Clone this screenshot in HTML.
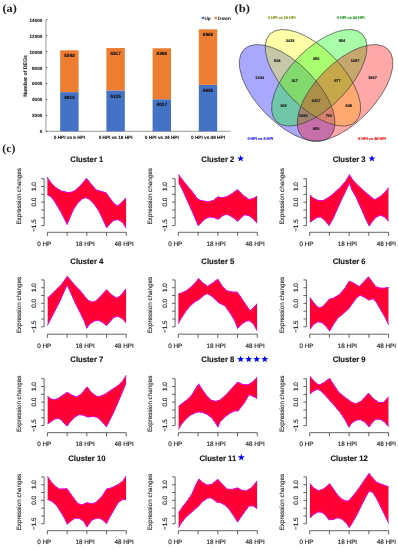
<!DOCTYPE html>
<html><head><meta charset="utf-8"><style>
html,body{margin:0;padding:0;background:#fff;}
svg{display:block;will-change:transform;text-rendering:geometricPrecision;font-family:"Liberation Sans",sans-serif;}
.lab{font-family:"Liberation Serif",serif;font-weight:bold;font-size:11.2px;fill:#1a1a1a;}
.bax{stroke:#8c8c8c;stroke-width:0.9;}
.bt{font-size:4.6px;font-weight:bold;fill:#262626;stroke:#262626;stroke-width:0.12;}
.byl{font-size:5.2px;font-weight:bold;fill:#262626;stroke:#262626;stroke-width:0.1;}
.bv{font-size:4.7px;font-weight:bold;fill:#111;stroke:#111;stroke-width:0.15;}
.bx{font-size:4.7px;font-weight:bold;fill:#222;stroke:#222;stroke-width:0.12;}
.bl{font-size:4.7px;font-weight:bold;fill:#333;stroke:#333;stroke-width:0.1;}
.vo{fill:none;stroke:#3a3a3a;stroke-width:0.75;stroke-opacity:0.85;}
.vn{font-size:3.9px;font-weight:bold;fill:#222;stroke:#222;stroke-width:0.15;}
.vs{font-size:3.85px;font-weight:bold;stroke-width:0.15;}
.ax{stroke:#333;stroke-width:0.75;}
.tl{font-size:6.35px;fill:#222;stroke:#222;stroke-width:0.14;}
.yl{font-size:6.27px;fill:#222;stroke:#222;stroke-width:0.12;}
.ti{font-size:7.95px;font-weight:bold;fill:#111;stroke:#111;stroke-width:0.12;}
.env{fill:#ff0034;}
.eb0{fill:none;stroke:#ff10b0;stroke-width:1.5;stroke-linejoin:round;}
.eb1{fill:none;stroke:#f000ff;stroke-width:0.95;stroke-linejoin:round;}
.eb2{fill:none;stroke:#8a10ff;stroke-width:0.45;stroke-linejoin:round;}
</style></head><body>
<svg width="398" height="550" viewBox="0 0 398 550">
<text transform="translate(2.5 11.9) scale(1.1 1)" class="lab">(a)</text>
<line x1="45.95" y1="19.35" x2="45.95" y2="131.3" class="bax"/>
<line x1="45.95" y1="131.3" x2="230.5" y2="131.3" class="bax"/>
<line x1="45.95" y1="131.3" x2="47.25" y2="131.3" stroke="#666" stroke-width="0.9"/>
<text x="42.3" y="133.3" class="bt" text-anchor="end">0</text>
<line x1="45.95" y1="115.35" x2="47.25" y2="115.35" stroke="#666" stroke-width="0.9"/>
<text x="42.3" y="117.35" class="bt" text-anchor="end">2000</text>
<line x1="45.95" y1="99.4" x2="47.25" y2="99.4" stroke="#666" stroke-width="0.9"/>
<text x="42.3" y="101.4" class="bt" text-anchor="end">4000</text>
<line x1="45.95" y1="83.45" x2="47.25" y2="83.45" stroke="#666" stroke-width="0.9"/>
<text x="42.3" y="85.45" class="bt" text-anchor="end">6000</text>
<line x1="45.95" y1="67.5" x2="47.25" y2="67.5" stroke="#666" stroke-width="0.9"/>
<text x="42.3" y="69.5" class="bt" text-anchor="end">8000</text>
<line x1="45.95" y1="51.55" x2="47.25" y2="51.55" stroke="#666" stroke-width="0.9"/>
<text x="42.3" y="53.55" class="bt" text-anchor="end">10000</text>
<line x1="45.95" y1="35.6" x2="47.25" y2="35.6" stroke="#666" stroke-width="0.9"/>
<text x="42.3" y="37.6" class="bt" text-anchor="end">12000</text>
<line x1="45.95" y1="19.65" x2="47.25" y2="19.65" stroke="#666" stroke-width="0.9"/>
<text x="42.3" y="21.65" class="bt" text-anchor="end">14000</text>
<text transform="translate(26.9 75.8) rotate(-90)" class="byl" text-anchor="middle">Number of DEGs</text>
<rect x="60.2" y="92.12" width="18.4" height="39.18" fill="#4472c4"/>
<rect x="60.2" y="50.31" width="18.4" height="41.81" fill="#ed7d31"/>
<text x="69.4" y="99.22" class="bv" text-anchor="middle">4913</text>
<text x="69.4" y="57.41" class="bv" text-anchor="middle">5243</text>
<text x="69.4" y="139.1" class="bx" text-anchor="middle">0 HPI vs 6 HPI</text>
<rect x="106.4" y="90.43" width="18.4" height="40.87" fill="#4472c4"/>
<rect x="106.4" y="48.03" width="18.4" height="42.4" fill="#ed7d31"/>
<text x="115.6" y="97.53" class="bv" text-anchor="middle">5125</text>
<text x="115.6" y="55.13" class="bv" text-anchor="middle">5317</text>
<text x="115.6" y="139.1" class="bx" text-anchor="middle">0 HPI vs 18 HPI</text>
<rect x="152.6" y="99.26" width="18.4" height="32.04" fill="#4472c4"/>
<rect x="152.6" y="48.26" width="18.4" height="51.01" fill="#ed7d31"/>
<text x="161.8" y="106.36" class="bv" text-anchor="middle">4017</text>
<text x="161.8" y="55.36" class="bv" text-anchor="middle">6396</text>
<text x="161.8" y="139.1" class="bx" text-anchor="middle">0 HPI vs 24 HPI</text>
<rect x="198.8" y="84.85" width="18.4" height="46.45" fill="#4472c4"/>
<rect x="198.8" y="29.29" width="18.4" height="55.55" fill="#ed7d31"/>
<text x="208" y="91.95" class="bv" text-anchor="middle">5825</text>
<text x="208" y="36.39" class="bv" text-anchor="middle">6966</text>
<text x="208" y="139.1" class="bx" text-anchor="middle">0 HPI vs 48 HPI</text>
<rect x="201.8" y="16.8" width="2.2" height="2.3" fill="#4472c4"/>
<text x="204.4" y="19.8" class="bl">Up</text>
<rect x="214.6" y="16.8" width="2.3" height="2.3" fill="#ed7d31"/>
<text x="218" y="19.8" class="bl">Down</text>
<text transform="translate(234.6 11.9) scale(1.12 1)" class="lab">(b)</text>
<ellipse cx="287.16" cy="92.95" rx="61.28" ry="29.7" transform="rotate(45.5 287.16 92.95)" fill="#0000ff" fill-opacity="0.34"/>
<ellipse cx="312.93" cy="77.79" rx="61.29" ry="29.23" transform="rotate(45.54 312.93 77.79)" fill="#ffff00" fill-opacity="0.34"/>
<ellipse cx="319.27" cy="77.79" rx="61.29" ry="29.23" transform="rotate(-45.54 319.27 77.79)" fill="#00ff00" fill-opacity="0.34"/>
<ellipse cx="345.04" cy="92.95" rx="61.28" ry="29.7" transform="rotate(-45.5 345.04 92.95)" fill="#ff0000" fill-opacity="0.34"/>
<ellipse cx="287.16" cy="92.95" rx="61.28" ry="29.7" transform="rotate(45.5 287.16 92.95)" class="vo"/>
<ellipse cx="312.93" cy="77.79" rx="61.29" ry="29.23" transform="rotate(45.54 312.93 77.79)" class="vo"/>
<ellipse cx="319.27" cy="77.79" rx="61.29" ry="29.23" transform="rotate(-45.54 319.27 77.79)" class="vo"/>
<ellipse cx="345.04" cy="92.95" rx="61.28" ry="29.7" transform="rotate(-45.5 345.04 92.95)" class="vo"/>
<text x="290.2" y="42.35" class="vn" text-anchor="middle">2423</text>
<text x="342" y="42.35" class="vn" text-anchor="middle">854</text>
<text x="277.3" y="61.55" class="vn" text-anchor="middle">524</text>
<text x="316.1" y="60.35" class="vn" text-anchor="middle">456</text>
<text x="355" y="61.55" class="vn" text-anchor="middle">1297</text>
<text x="259.7" y="78.55" class="vn" text-anchor="middle">1244</text>
<text x="294.7" y="82.35" class="vn" text-anchor="middle">317</text>
<text x="337.4" y="82.35" class="vn" text-anchor="middle">977</text>
<text x="372.5" y="78.55" class="vn" text-anchor="middle">1967</text>
<text x="283.4" y="106.85" class="vn" text-anchor="middle">369</text>
<text x="316.1" y="102.45" class="vn" text-anchor="middle">6217</text>
<text x="348.8" y="106.85" class="vn" text-anchor="middle">828</text>
<text x="303.3" y="117.05" class="vn" text-anchor="middle">1926</text>
<text x="328.9" y="117.05" class="vn" text-anchor="middle">700</text>
<text x="316.1" y="130.15" class="vn" text-anchor="middle">859</text>
<text x="281.6" y="19.0" class="vs" fill="#8f9a1e" stroke="#8f9a1e" text-anchor="middle">0 HPI vs 18 HPI</text>
<text x="350.6" y="19.0" class="vs" fill="#22a022" stroke="#22a022" text-anchor="middle">0 HPI vs 24 HPI</text>
<text x="260.2" y="140.0" class="vs" fill="#2020f0" stroke="#2020f0" text-anchor="middle">0 HPI vs 6 HPI</text>
<text x="372" y="140.0" class="vs" fill="#f01010" stroke="#f01010" text-anchor="middle">0 HPI vs 48 HPI</text>
<text transform="translate(2.3 151.5) scale(1.05 1)" class="lab">(c)</text>
<line x1="44.1" y1="178.7" x2="44.1" y2="225.59" class="ax"/>
<line x1="41.1" y1="178.7" x2="44.1" y2="178.7" class="ax"/>
<line x1="41.1" y1="186.51" x2="44.1" y2="186.51" class="ax"/>
<line x1="41.1" y1="194.33" x2="44.1" y2="194.33" class="ax"/>
<line x1="41.1" y1="202.14" x2="44.1" y2="202.14" class="ax"/>
<line x1="41.1" y1="209.96" x2="44.1" y2="209.96" class="ax"/>
<line x1="41.1" y1="217.77" x2="44.1" y2="217.77" class="ax"/>
<line x1="41.1" y1="225.59" x2="44.1" y2="225.59" class="ax"/>
<text transform="translate(35.9 186.51) rotate(-90)" class="tl" text-anchor="middle">1.0</text>
<text transform="translate(35.9 202.14) rotate(-90)" class="tl" text-anchor="middle">0.0</text>
<text transform="translate(35.9 225.59) rotate(-90)" class="tl" text-anchor="middle">−1.5</text>
<text transform="translate(21.3 196.4) rotate(-90)" class="yl" text-anchor="middle">Expression changes</text>
<line x1="47.4" y1="232.3" x2="126.28" y2="232.3" class="ax"/>
<line x1="47.4" y1="232.3" x2="47.4" y2="235.9" class="ax"/>
<line x1="67.12" y1="232.3" x2="67.12" y2="235.9" class="ax"/>
<line x1="86.84" y1="232.3" x2="86.84" y2="235.9" class="ax"/>
<line x1="106.56" y1="232.3" x2="106.56" y2="235.9" class="ax"/>
<line x1="126.28" y1="232.3" x2="126.28" y2="235.9" class="ax"/>
<text x="44.2" y="245.9" class="tl" text-anchor="middle">0 HP</text>
<text x="85.14" y="245.9" class="tl" text-anchor="middle">18 HPI</text>
<text x="124.08" y="245.9" class="tl" text-anchor="middle">48 HPI</text>
<text transform="translate(86.84 161.6) scale(0.97 1)" class="ti" text-anchor="middle">Cluster 1</text>
<clipPath id="c1"><path d="M47.22 176.86 L50.53 181.84 L53.84 185.71 L57.71 188.47 L61.59 190.69 L67.12 192.02 L72.08 191.78 L75.96 189.59 L80.37 185.16 L86.73 177.98 L90.53 182.94 L96.06 189.59 L101.59 191.24 L106 192.35 L110.43 198.43 L114.86 203.96 L117.6 205.61 L121.49 202.3 L126.26 197.31 L126.26 228.83 L122.59 222.75 L118.15 219.98 L113.74 220.53 L110.43 223.87 L106.54 228.3 L102.68 219.43 L98.27 210.57 L93.84 203.96 L89.32 199.59 L85.73 197.91 L82.59 198.98 L78.16 202.84 L73.75 209.49 L70.43 217.22 L67.12 224.96 L63.78 218.34 L60.47 211.69 L57.16 206.14 L53.84 200.65 L50.53 196.77 L47.22 195.12Z"/></clipPath>
<g clip-path="url(#c1)"><path d="M47.22 176.86 L50.53 181.84 L53.84 185.71 L57.71 188.47 L61.59 190.69 L67.12 192.02 L72.08 191.78 L75.96 189.59 L80.37 185.16 L86.73 177.98 L90.53 182.94 L96.06 189.59 L101.59 191.24 L106 192.35 L110.43 198.43 L114.86 203.96 L117.6 205.61 L121.49 202.3 L126.26 197.31 L126.26 228.83 L122.59 222.75 L118.15 219.98 L113.74 220.53 L110.43 223.87 L106.54 228.3 L102.68 219.43 L98.27 210.57 L93.84 203.96 L89.32 199.59 L85.73 197.91 L82.59 198.98 L78.16 202.84 L73.75 209.49 L70.43 217.22 L67.12 224.96 L63.78 218.34 L60.47 211.69 L57.16 206.14 L53.84 200.65 L50.53 196.77 L47.22 195.12Z" class="env"/>
<path d="M47.22 176.86 L50.53 181.84 L53.84 185.71 L57.71 188.47 L61.59 190.69 L67.12 192.02 L72.08 191.78 L75.96 189.59 L80.37 185.16 L86.73 177.98 L90.53 182.94 L96.06 189.59 L101.59 191.24 L106 192.35 L110.43 198.43 L114.86 203.96 L117.6 205.61 L121.49 202.3 L126.26 197.31" class="eb0"/><path d="M47.22 176.86 L50.53 181.84 L53.84 185.71 L57.71 188.47 L61.59 190.69 L67.12 192.02 L72.08 191.78 L75.96 189.59 L80.37 185.16 L86.73 177.98 L90.53 182.94 L96.06 189.59 L101.59 191.24 L106 192.35 L110.43 198.43 L114.86 203.96 L117.6 205.61 L121.49 202.3 L126.26 197.31" class="eb1"/><path d="M47.22 176.86 L50.53 181.84 L53.84 185.71 L57.71 188.47 L61.59 190.69 L67.12 192.02 L72.08 191.78 L75.96 189.59 L80.37 185.16 L86.73 177.98 L90.53 182.94 L96.06 189.59 L101.59 191.24 L106 192.35 L110.43 198.43 L114.86 203.96 L117.6 205.61 L121.49 202.3 L126.26 197.31" class="eb2"/>
<path d="M126.26 228.83 L122.59 222.75 L118.15 219.98 L113.74 220.53 L110.43 223.87 L106.54 228.3 L102.68 219.43 L98.27 210.57 L93.84 203.96 L89.32 199.59 L85.73 197.91 L82.59 198.98 L78.16 202.84 L73.75 209.49 L70.43 217.22 L67.12 224.96 L63.78 218.34 L60.47 211.69 L57.16 206.14 L53.84 200.65 L50.53 196.77 L47.22 195.12" class="eb0"/><path d="M126.26 228.83 L122.59 222.75 L118.15 219.98 L113.74 220.53 L110.43 223.87 L106.54 228.3 L102.68 219.43 L98.27 210.57 L93.84 203.96 L89.32 199.59 L85.73 197.91 L82.59 198.98 L78.16 202.84 L73.75 209.49 L70.43 217.22 L67.12 224.96 L63.78 218.34 L60.47 211.69 L57.16 206.14 L53.84 200.65 L50.53 196.77 L47.22 195.12" class="eb1"/><path d="M126.26 228.83 L122.59 222.75 L118.15 219.98 L113.74 220.53 L110.43 223.87 L106.54 228.3 L102.68 219.43 L98.27 210.57 L93.84 203.96 L89.32 199.59 L85.73 197.91 L82.59 198.98 L78.16 202.84 L73.75 209.49 L70.43 217.22 L67.12 224.96 L63.78 218.34 L60.47 211.69 L57.16 206.14 L53.84 200.65 L50.53 196.77 L47.22 195.12" class="eb2"/>
</g>
<line x1="175.1" y1="178.7" x2="175.1" y2="225.59" class="ax"/>
<line x1="172.1" y1="178.7" x2="175.1" y2="178.7" class="ax"/>
<line x1="172.1" y1="186.51" x2="175.1" y2="186.51" class="ax"/>
<line x1="172.1" y1="194.33" x2="175.1" y2="194.33" class="ax"/>
<line x1="172.1" y1="202.14" x2="175.1" y2="202.14" class="ax"/>
<line x1="172.1" y1="209.96" x2="175.1" y2="209.96" class="ax"/>
<line x1="172.1" y1="217.77" x2="175.1" y2="217.77" class="ax"/>
<line x1="172.1" y1="225.59" x2="175.1" y2="225.59" class="ax"/>
<text transform="translate(166.9 186.51) rotate(-90)" class="tl" text-anchor="middle">1.0</text>
<text transform="translate(166.9 202.14) rotate(-90)" class="tl" text-anchor="middle">0.0</text>
<text transform="translate(166.9 225.59) rotate(-90)" class="tl" text-anchor="middle">−1.5</text>
<text transform="translate(152.3 196.4) rotate(-90)" class="yl" text-anchor="middle">Expression changes</text>
<line x1="178.4" y1="232.3" x2="257.28" y2="232.3" class="ax"/>
<line x1="178.4" y1="232.3" x2="178.4" y2="235.9" class="ax"/>
<line x1="198.12" y1="232.3" x2="198.12" y2="235.9" class="ax"/>
<line x1="217.84" y1="232.3" x2="217.84" y2="235.9" class="ax"/>
<line x1="237.56" y1="232.3" x2="237.56" y2="235.9" class="ax"/>
<line x1="257.28" y1="232.3" x2="257.28" y2="235.9" class="ax"/>
<text x="175.2" y="245.9" class="tl" text-anchor="middle">0 HP</text>
<text x="216.14" y="245.9" class="tl" text-anchor="middle">18 HPI</text>
<text x="255.08" y="245.9" class="tl" text-anchor="middle">48 HPI</text>
<text transform="translate(217.84 161.6) scale(0.97 1)" class="ti" text-anchor="middle">Cluster 2</text>
<path d="M240.64 154.9 L241.51 157.4 L244.16 157.46 L242.05 159.06 L242.81 161.59 L240.64 160.08 L238.47 161.59 L239.23 159.06 L237.12 157.46 L239.77 157.4Z" fill="#0000ff"/>
<clipPath id="c2"><path d="M178.43 174.1 L182.63 179.63 L187.06 185.16 L192.59 191.78 L198.12 199.32 L203.65 200.65 L209.16 201.2 L213.59 200.08 L218 196.43 L220.11 197.06 L222.62 197.31 L227.06 196.22 L232.59 192.9 L237.54 189.36 L242.53 194.55 L249.15 199.32 L253.59 197.88 L257.26 195.67 L257.26 223.87 L253.59 219.43 L249.15 216.12 L244.74 215 L241.43 217.77 L237.54 221.65 L233.68 218.34 L229.27 215.57 L225.94 214.79 L222.62 216.12 L219.27 219.01 L217.45 219.43 L213.59 217.74 L209.16 217.22 L204.75 219.43 L201.43 222.75 L198.12 226.06 L195.35 219.43 L191.47 210.57 L187.06 200.65 L182.63 190.69 L178.43 182.39Z"/></clipPath>
<g clip-path="url(#c2)"><path d="M178.43 174.1 L182.63 179.63 L187.06 185.16 L192.59 191.78 L198.12 199.32 L203.65 200.65 L209.16 201.2 L213.59 200.08 L218 196.43 L220.11 197.06 L222.62 197.31 L227.06 196.22 L232.59 192.9 L237.54 189.36 L242.53 194.55 L249.15 199.32 L253.59 197.88 L257.26 195.67 L257.26 223.87 L253.59 219.43 L249.15 216.12 L244.74 215 L241.43 217.77 L237.54 221.65 L233.68 218.34 L229.27 215.57 L225.94 214.79 L222.62 216.12 L219.27 219.01 L217.45 219.43 L213.59 217.74 L209.16 217.22 L204.75 219.43 L201.43 222.75 L198.12 226.06 L195.35 219.43 L191.47 210.57 L187.06 200.65 L182.63 190.69 L178.43 182.39Z" class="env"/>
<path d="M178.43 174.1 L182.63 179.63 L187.06 185.16 L192.59 191.78 L198.12 199.32 L203.65 200.65 L209.16 201.2 L213.59 200.08 L218 196.43 L220.11 197.06 L222.62 197.31 L227.06 196.22 L232.59 192.9 L237.54 189.36 L242.53 194.55 L249.15 199.32 L253.59 197.88 L257.26 195.67" class="eb0"/><path d="M178.43 174.1 L182.63 179.63 L187.06 185.16 L192.59 191.78 L198.12 199.32 L203.65 200.65 L209.16 201.2 L213.59 200.08 L218 196.43 L220.11 197.06 L222.62 197.31 L227.06 196.22 L232.59 192.9 L237.54 189.36 L242.53 194.55 L249.15 199.32 L253.59 197.88 L257.26 195.67" class="eb1"/><path d="M178.43 174.1 L182.63 179.63 L187.06 185.16 L192.59 191.78 L198.12 199.32 L203.65 200.65 L209.16 201.2 L213.59 200.08 L218 196.43 L220.11 197.06 L222.62 197.31 L227.06 196.22 L232.59 192.9 L237.54 189.36 L242.53 194.55 L249.15 199.32 L253.59 197.88 L257.26 195.67" class="eb2"/>
<path d="M257.26 223.87 L253.59 219.43 L249.15 216.12 L244.74 215 L241.43 217.77 L237.54 221.65 L233.68 218.34 L229.27 215.57 L225.94 214.79 L222.62 216.12 L219.27 219.01 L217.45 219.43 L213.59 217.74 L209.16 217.22 L204.75 219.43 L201.43 222.75 L198.12 226.06 L195.35 219.43 L191.47 210.57 L187.06 200.65 L182.63 190.69 L178.43 182.39" class="eb0"/><path d="M257.26 223.87 L253.59 219.43 L249.15 216.12 L244.74 215 L241.43 217.77 L237.54 221.65 L233.68 218.34 L229.27 215.57 L225.94 214.79 L222.62 216.12 L219.27 219.01 L217.45 219.43 L213.59 217.74 L209.16 217.22 L204.75 219.43 L201.43 222.75 L198.12 226.06 L195.35 219.43 L191.47 210.57 L187.06 200.65 L182.63 190.69 L178.43 182.39" class="eb1"/><path d="M257.26 223.87 L253.59 219.43 L249.15 216.12 L244.74 215 L241.43 217.77 L237.54 221.65 L233.68 218.34 L229.27 215.57 L225.94 214.79 L222.62 216.12 L219.27 219.01 L217.45 219.43 L213.59 217.74 L209.16 217.22 L204.75 219.43 L201.43 222.75 L198.12 226.06 L195.35 219.43 L191.47 210.57 L187.06 200.65 L182.63 190.69 L178.43 182.39" class="eb2"/>
</g>
<line x1="306.4" y1="178.7" x2="306.4" y2="225.59" class="ax"/>
<line x1="303.4" y1="178.7" x2="306.4" y2="178.7" class="ax"/>
<line x1="303.4" y1="186.51" x2="306.4" y2="186.51" class="ax"/>
<line x1="303.4" y1="194.33" x2="306.4" y2="194.33" class="ax"/>
<line x1="303.4" y1="202.14" x2="306.4" y2="202.14" class="ax"/>
<line x1="303.4" y1="209.96" x2="306.4" y2="209.96" class="ax"/>
<line x1="303.4" y1="217.77" x2="306.4" y2="217.77" class="ax"/>
<line x1="303.4" y1="225.59" x2="306.4" y2="225.59" class="ax"/>
<text transform="translate(298.2 186.51) rotate(-90)" class="tl" text-anchor="middle">1.0</text>
<text transform="translate(298.2 202.14) rotate(-90)" class="tl" text-anchor="middle">0.0</text>
<text transform="translate(298.2 225.59) rotate(-90)" class="tl" text-anchor="middle">−1.5</text>
<text transform="translate(283.6 196.4) rotate(-90)" class="yl" text-anchor="middle">Expression changes</text>
<line x1="309.7" y1="232.3" x2="388.58" y2="232.3" class="ax"/>
<line x1="309.7" y1="232.3" x2="309.7" y2="235.9" class="ax"/>
<line x1="329.42" y1="232.3" x2="329.42" y2="235.9" class="ax"/>
<line x1="349.14" y1="232.3" x2="349.14" y2="235.9" class="ax"/>
<line x1="368.86" y1="232.3" x2="368.86" y2="235.9" class="ax"/>
<line x1="388.58" y1="232.3" x2="388.58" y2="235.9" class="ax"/>
<text x="306.5" y="245.9" class="tl" text-anchor="middle">0 HP</text>
<text x="347.44" y="245.9" class="tl" text-anchor="middle">18 HPI</text>
<text x="386.38" y="245.9" class="tl" text-anchor="middle">48 HPI</text>
<text transform="translate(349.14 161.6) scale(0.97 1)" class="ti" text-anchor="middle">Cluster 3</text>
<path d="M371.94 154.9 L372.81 157.4 L375.46 157.46 L373.35 159.06 L374.11 161.59 L371.94 160.08 L369.77 161.59 L370.53 159.06 L368.42 157.46 L371.07 157.4Z" fill="#0000ff"/>
<clipPath id="c3"><path d="M309.74 194.55 L313.63 197.88 L318.06 200.08 L323.59 200.08 L329.12 196.77 L334.65 192.35 L340.16 187.37 L345.69 180.75 L349.42 174.27 L353.62 180.75 L358.06 185.16 L363.59 190.14 L369.11 195.12 L374.64 199.53 L380.15 196.22 L384.59 192.35 L388.68 187.37 L388.68 221.65 L384.59 217.22 L380.15 215.57 L375.74 217.77 L372.43 221.65 L369.11 226.61 L364.68 217.22 L360.27 207.28 L355.84 197.31 L351.43 189.59 L349.42 183.76 L346.81 189.59 L342.37 198.43 L337.96 208.37 L333.53 218.34 L329.12 226.06 L324.69 220.53 L321.37 217.77 L318.06 217.22 L313.63 219.98 L309.74 222.75Z"/></clipPath>
<g clip-path="url(#c3)"><path d="M309.74 194.55 L313.63 197.88 L318.06 200.08 L323.59 200.08 L329.12 196.77 L334.65 192.35 L340.16 187.37 L345.69 180.75 L349.42 174.27 L353.62 180.75 L358.06 185.16 L363.59 190.14 L369.11 195.12 L374.64 199.53 L380.15 196.22 L384.59 192.35 L388.68 187.37 L388.68 221.65 L384.59 217.22 L380.15 215.57 L375.74 217.77 L372.43 221.65 L369.11 226.61 L364.68 217.22 L360.27 207.28 L355.84 197.31 L351.43 189.59 L349.42 183.76 L346.81 189.59 L342.37 198.43 L337.96 208.37 L333.53 218.34 L329.12 226.06 L324.69 220.53 L321.37 217.77 L318.06 217.22 L313.63 219.98 L309.74 222.75Z" class="env"/>
<path d="M309.74 194.55 L313.63 197.88 L318.06 200.08 L323.59 200.08 L329.12 196.77 L334.65 192.35 L340.16 187.37 L345.69 180.75 L349.42 174.27 L353.62 180.75 L358.06 185.16 L363.59 190.14 L369.11 195.12 L374.64 199.53 L380.15 196.22 L384.59 192.35 L388.68 187.37" class="eb0"/><path d="M309.74 194.55 L313.63 197.88 L318.06 200.08 L323.59 200.08 L329.12 196.77 L334.65 192.35 L340.16 187.37 L345.69 180.75 L349.42 174.27 L353.62 180.75 L358.06 185.16 L363.59 190.14 L369.11 195.12 L374.64 199.53 L380.15 196.22 L384.59 192.35 L388.68 187.37" class="eb1"/><path d="M309.74 194.55 L313.63 197.88 L318.06 200.08 L323.59 200.08 L329.12 196.77 L334.65 192.35 L340.16 187.37 L345.69 180.75 L349.42 174.27 L353.62 180.75 L358.06 185.16 L363.59 190.14 L369.11 195.12 L374.64 199.53 L380.15 196.22 L384.59 192.35 L388.68 187.37" class="eb2"/>
<path d="M388.68 221.65 L384.59 217.22 L380.15 215.57 L375.74 217.77 L372.43 221.65 L369.11 226.61 L364.68 217.22 L360.27 207.28 L355.84 197.31 L351.43 189.59 L349.42 183.76 L346.81 189.59 L342.37 198.43 L337.96 208.37 L333.53 218.34 L329.12 226.06 L324.69 220.53 L321.37 217.77 L318.06 217.22 L313.63 219.98 L309.74 222.75" class="eb0"/><path d="M388.68 221.65 L384.59 217.22 L380.15 215.57 L375.74 217.77 L372.43 221.65 L369.11 226.61 L364.68 217.22 L360.27 207.28 L355.84 197.31 L351.43 189.59 L349.42 183.76 L346.81 189.59 L342.37 198.43 L337.96 208.37 L333.53 218.34 L329.12 226.06 L324.69 220.53 L321.37 217.77 L318.06 217.22 L313.63 219.98 L309.74 222.75" class="eb1"/><path d="M388.68 221.65 L384.59 217.22 L380.15 215.57 L375.74 217.77 L372.43 221.65 L369.11 226.61 L364.68 217.22 L360.27 207.28 L355.84 197.31 L351.43 189.59 L349.42 183.76 L346.81 189.59 L342.37 198.43 L337.96 208.37 L333.53 218.34 L329.12 226.06 L324.69 220.53 L321.37 217.77 L318.06 217.22 L313.63 219.98 L309.74 222.75" class="eb2"/>
</g>
<line x1="44.1" y1="279.9" x2="44.1" y2="326.79" class="ax"/>
<line x1="41.1" y1="279.9" x2="44.1" y2="279.9" class="ax"/>
<line x1="41.1" y1="287.71" x2="44.1" y2="287.71" class="ax"/>
<line x1="41.1" y1="295.53" x2="44.1" y2="295.53" class="ax"/>
<line x1="41.1" y1="303.34" x2="44.1" y2="303.34" class="ax"/>
<line x1="41.1" y1="311.16" x2="44.1" y2="311.16" class="ax"/>
<line x1="41.1" y1="318.97" x2="44.1" y2="318.97" class="ax"/>
<line x1="41.1" y1="326.79" x2="44.1" y2="326.79" class="ax"/>
<text transform="translate(35.9 287.71) rotate(-90)" class="tl" text-anchor="middle">1.0</text>
<text transform="translate(35.9 303.34) rotate(-90)" class="tl" text-anchor="middle">0.0</text>
<text transform="translate(35.9 326.79) rotate(-90)" class="tl" text-anchor="middle">−1.5</text>
<text transform="translate(21.3 305.1) rotate(-90)" class="yl" text-anchor="middle">Expression changes</text>
<line x1="47.4" y1="334.2" x2="126.28" y2="334.2" class="ax"/>
<line x1="47.4" y1="334.2" x2="47.4" y2="337.8" class="ax"/>
<line x1="67.12" y1="334.2" x2="67.12" y2="337.8" class="ax"/>
<line x1="86.84" y1="334.2" x2="86.84" y2="337.8" class="ax"/>
<line x1="106.56" y1="334.2" x2="106.56" y2="337.8" class="ax"/>
<line x1="126.28" y1="334.2" x2="126.28" y2="337.8" class="ax"/>
<text x="44.2" y="347.8" class="tl" text-anchor="middle">0 HP</text>
<text x="85.14" y="347.8" class="tl" text-anchor="middle">18 HPI</text>
<text x="124.08" y="347.8" class="tl" text-anchor="middle">48 HPI</text>
<text transform="translate(86.84 264) scale(0.97 1)" class="ti" text-anchor="middle">Cluster 4</text>
<clipPath id="c4"><path d="M47.43 297.77 L51.63 293.9 L56.06 289.47 L61.59 283.94 L65.45 278.43 L67.12 275.98 L70.43 279.53 L74.84 285.06 L80.37 290.59 L85.31 296.79 L88.31 299.98 L92.17 301.65 L96.06 300.53 L100.47 296.12 L106.54 289.47 L111.53 294.45 L116.51 297.77 L120.37 295.55 L126.26 288.37 L126.26 323.2 L122.59 319.34 L118.15 316.57 L113.74 317.67 L110.43 321.53 L106.54 325.96 L102.68 322.65 L98.27 320.43 L93.84 321.53 L89.43 324.87 L86.79 328.73 L83.69 320.43 L79.28 311.59 L74.84 302.75 L70.43 292.78 L67.12 285.61 L64.35 291.69 L60.47 300.53 L56.06 309.37 L51.63 317.67 L47.43 325.96Z"/></clipPath>
<g clip-path="url(#c4)"><path d="M47.43 297.77 L51.63 293.9 L56.06 289.47 L61.59 283.94 L65.45 278.43 L67.12 275.98 L70.43 279.53 L74.84 285.06 L80.37 290.59 L85.31 296.79 L88.31 299.98 L92.17 301.65 L96.06 300.53 L100.47 296.12 L106.54 289.47 L111.53 294.45 L116.51 297.77 L120.37 295.55 L126.26 288.37 L126.26 323.2 L122.59 319.34 L118.15 316.57 L113.74 317.67 L110.43 321.53 L106.54 325.96 L102.68 322.65 L98.27 320.43 L93.84 321.53 L89.43 324.87 L86.79 328.73 L83.69 320.43 L79.28 311.59 L74.84 302.75 L70.43 292.78 L67.12 285.61 L64.35 291.69 L60.47 300.53 L56.06 309.37 L51.63 317.67 L47.43 325.96Z" class="env"/>
<path d="M47.43 297.77 L51.63 293.9 L56.06 289.47 L61.59 283.94 L65.45 278.43 L67.12 275.98 L70.43 279.53 L74.84 285.06 L80.37 290.59 L85.31 296.79 L88.31 299.98 L92.17 301.65 L96.06 300.53 L100.47 296.12 L106.54 289.47 L111.53 294.45 L116.51 297.77 L120.37 295.55 L126.26 288.37" class="eb0"/><path d="M47.43 297.77 L51.63 293.9 L56.06 289.47 L61.59 283.94 L65.45 278.43 L67.12 275.98 L70.43 279.53 L74.84 285.06 L80.37 290.59 L85.31 296.79 L88.31 299.98 L92.17 301.65 L96.06 300.53 L100.47 296.12 L106.54 289.47 L111.53 294.45 L116.51 297.77 L120.37 295.55 L126.26 288.37" class="eb1"/><path d="M47.43 297.77 L51.63 293.9 L56.06 289.47 L61.59 283.94 L65.45 278.43 L67.12 275.98 L70.43 279.53 L74.84 285.06 L80.37 290.59 L85.31 296.79 L88.31 299.98 L92.17 301.65 L96.06 300.53 L100.47 296.12 L106.54 289.47 L111.53 294.45 L116.51 297.77 L120.37 295.55 L126.26 288.37" class="eb2"/>
<path d="M126.26 323.2 L122.59 319.34 L118.15 316.57 L113.74 317.67 L110.43 321.53 L106.54 325.96 L102.68 322.65 L98.27 320.43 L93.84 321.53 L89.43 324.87 L86.79 328.73 L83.69 320.43 L79.28 311.59 L74.84 302.75 L70.43 292.78 L67.12 285.61 L64.35 291.69 L60.47 300.53 L56.06 309.37 L51.63 317.67 L47.43 325.96" class="eb0"/><path d="M126.26 323.2 L122.59 319.34 L118.15 316.57 L113.74 317.67 L110.43 321.53 L106.54 325.96 L102.68 322.65 L98.27 320.43 L93.84 321.53 L89.43 324.87 L86.79 328.73 L83.69 320.43 L79.28 311.59 L74.84 302.75 L70.43 292.78 L67.12 285.61 L64.35 291.69 L60.47 300.53 L56.06 309.37 L51.63 317.67 L47.43 325.96" class="eb1"/><path d="M126.26 323.2 L122.59 319.34 L118.15 316.57 L113.74 317.67 L110.43 321.53 L106.54 325.96 L102.68 322.65 L98.27 320.43 L93.84 321.53 L89.43 324.87 L86.79 328.73 L83.69 320.43 L79.28 311.59 L74.84 302.75 L70.43 292.78 L67.12 285.61 L64.35 291.69 L60.47 300.53 L56.06 309.37 L51.63 317.67 L47.43 325.96" class="eb2"/>
</g>
<line x1="175.1" y1="279.9" x2="175.1" y2="326.79" class="ax"/>
<line x1="172.1" y1="279.9" x2="175.1" y2="279.9" class="ax"/>
<line x1="172.1" y1="287.71" x2="175.1" y2="287.71" class="ax"/>
<line x1="172.1" y1="295.53" x2="175.1" y2="295.53" class="ax"/>
<line x1="172.1" y1="303.34" x2="175.1" y2="303.34" class="ax"/>
<line x1="172.1" y1="311.16" x2="175.1" y2="311.16" class="ax"/>
<line x1="172.1" y1="318.97" x2="175.1" y2="318.97" class="ax"/>
<line x1="172.1" y1="326.79" x2="175.1" y2="326.79" class="ax"/>
<text transform="translate(166.9 287.71) rotate(-90)" class="tl" text-anchor="middle">1.0</text>
<text transform="translate(166.9 303.34) rotate(-90)" class="tl" text-anchor="middle">0.0</text>
<text transform="translate(166.9 326.79) rotate(-90)" class="tl" text-anchor="middle">−1.5</text>
<text transform="translate(152.3 305.1) rotate(-90)" class="yl" text-anchor="middle">Expression changes</text>
<line x1="178.4" y1="334.2" x2="257.28" y2="334.2" class="ax"/>
<line x1="178.4" y1="334.2" x2="178.4" y2="337.8" class="ax"/>
<line x1="198.12" y1="334.2" x2="198.12" y2="337.8" class="ax"/>
<line x1="217.84" y1="334.2" x2="217.84" y2="337.8" class="ax"/>
<line x1="237.56" y1="334.2" x2="237.56" y2="337.8" class="ax"/>
<line x1="257.28" y1="334.2" x2="257.28" y2="337.8" class="ax"/>
<text x="175.2" y="347.8" class="tl" text-anchor="middle">0 HP</text>
<text x="216.14" y="347.8" class="tl" text-anchor="middle">18 HPI</text>
<text x="255.08" y="347.8" class="tl" text-anchor="middle">48 HPI</text>
<text transform="translate(217.84 264) scale(0.97 1)" class="ti" text-anchor="middle">Cluster 5</text>
<clipPath id="c5"><path d="M178.22 293.84 L182.54 292.15 L186.98 290.04 L191.41 286.24 L195.42 282.23 L198.58 278.22 L202.59 282.23 L207.45 286.03 L212.51 282.86 L217.79 278.85 L222.64 286.16 L227.08 290.59 L232.56 291.69 L237 291.69 L239.74 295 L244.81 302.7 L250.29 310.51 L254.09 306.61 L257.26 303.34 L257.26 331.41 L253.04 323.81 L249.24 321.07 L245.86 321.49 L241.43 324.87 L237.63 328.66 L234.25 320.43 L230.45 313.89 L224.75 306.08 L218.63 302.92 L214.62 299.33 L211.46 296.16 L207.45 294.05 L204.7 295.11 L201.33 297.85 L198.16 300.59 L195.42 301.65 L190.35 306.08 L185.92 311.57 L181.49 318.32 L178.22 324.23Z"/></clipPath>
<g clip-path="url(#c5)"><path d="M178.22 293.84 L182.54 292.15 L186.98 290.04 L191.41 286.24 L195.42 282.23 L198.58 278.22 L202.59 282.23 L207.45 286.03 L212.51 282.86 L217.79 278.85 L222.64 286.16 L227.08 290.59 L232.56 291.69 L237 291.69 L239.74 295 L244.81 302.7 L250.29 310.51 L254.09 306.61 L257.26 303.34 L257.26 331.41 L253.04 323.81 L249.24 321.07 L245.86 321.49 L241.43 324.87 L237.63 328.66 L234.25 320.43 L230.45 313.89 L224.75 306.08 L218.63 302.92 L214.62 299.33 L211.46 296.16 L207.45 294.05 L204.7 295.11 L201.33 297.85 L198.16 300.59 L195.42 301.65 L190.35 306.08 L185.92 311.57 L181.49 318.32 L178.22 324.23Z" class="env"/>
<path d="M178.22 293.84 L182.54 292.15 L186.98 290.04 L191.41 286.24 L195.42 282.23 L198.58 278.22 L202.59 282.23 L207.45 286.03 L212.51 282.86 L217.79 278.85 L222.64 286.16 L227.08 290.59 L232.56 291.69 L237 291.69 L239.74 295 L244.81 302.7 L250.29 310.51 L254.09 306.61 L257.26 303.34" class="eb0"/><path d="M178.22 293.84 L182.54 292.15 L186.98 290.04 L191.41 286.24 L195.42 282.23 L198.58 278.22 L202.59 282.23 L207.45 286.03 L212.51 282.86 L217.79 278.85 L222.64 286.16 L227.08 290.59 L232.56 291.69 L237 291.69 L239.74 295 L244.81 302.7 L250.29 310.51 L254.09 306.61 L257.26 303.34" class="eb1"/><path d="M178.22 293.84 L182.54 292.15 L186.98 290.04 L191.41 286.24 L195.42 282.23 L198.58 278.22 L202.59 282.23 L207.45 286.03 L212.51 282.86 L217.79 278.85 L222.64 286.16 L227.08 290.59 L232.56 291.69 L237 291.69 L239.74 295 L244.81 302.7 L250.29 310.51 L254.09 306.61 L257.26 303.34" class="eb2"/>
<path d="M257.26 331.41 L253.04 323.81 L249.24 321.07 L245.86 321.49 L241.43 324.87 L237.63 328.66 L234.25 320.43 L230.45 313.89 L224.75 306.08 L218.63 302.92 L214.62 299.33 L211.46 296.16 L207.45 294.05 L204.7 295.11 L201.33 297.85 L198.16 300.59 L195.42 301.65 L190.35 306.08 L185.92 311.57 L181.49 318.32 L178.22 324.23" class="eb0"/><path d="M257.26 331.41 L253.04 323.81 L249.24 321.07 L245.86 321.49 L241.43 324.87 L237.63 328.66 L234.25 320.43 L230.45 313.89 L224.75 306.08 L218.63 302.92 L214.62 299.33 L211.46 296.16 L207.45 294.05 L204.7 295.11 L201.33 297.85 L198.16 300.59 L195.42 301.65 L190.35 306.08 L185.92 311.57 L181.49 318.32 L178.22 324.23" class="eb1"/><path d="M257.26 331.41 L253.04 323.81 L249.24 321.07 L245.86 321.49 L241.43 324.87 L237.63 328.66 L234.25 320.43 L230.45 313.89 L224.75 306.08 L218.63 302.92 L214.62 299.33 L211.46 296.16 L207.45 294.05 L204.7 295.11 L201.33 297.85 L198.16 300.59 L195.42 301.65 L190.35 306.08 L185.92 311.57 L181.49 318.32 L178.22 324.23" class="eb2"/>
</g>
<line x1="306.4" y1="279.9" x2="306.4" y2="326.79" class="ax"/>
<line x1="303.4" y1="279.9" x2="306.4" y2="279.9" class="ax"/>
<line x1="303.4" y1="287.71" x2="306.4" y2="287.71" class="ax"/>
<line x1="303.4" y1="295.53" x2="306.4" y2="295.53" class="ax"/>
<line x1="303.4" y1="303.34" x2="306.4" y2="303.34" class="ax"/>
<line x1="303.4" y1="311.16" x2="306.4" y2="311.16" class="ax"/>
<line x1="303.4" y1="318.97" x2="306.4" y2="318.97" class="ax"/>
<line x1="303.4" y1="326.79" x2="306.4" y2="326.79" class="ax"/>
<text transform="translate(298.2 287.71) rotate(-90)" class="tl" text-anchor="middle">1.0</text>
<text transform="translate(298.2 303.34) rotate(-90)" class="tl" text-anchor="middle">0.0</text>
<text transform="translate(298.2 326.79) rotate(-90)" class="tl" text-anchor="middle">−1.5</text>
<text transform="translate(283.6 305.1) rotate(-90)" class="yl" text-anchor="middle">Expression changes</text>
<line x1="309.7" y1="334.2" x2="388.58" y2="334.2" class="ax"/>
<line x1="309.7" y1="334.2" x2="309.7" y2="337.8" class="ax"/>
<line x1="329.42" y1="334.2" x2="329.42" y2="337.8" class="ax"/>
<line x1="349.14" y1="334.2" x2="349.14" y2="337.8" class="ax"/>
<line x1="368.86" y1="334.2" x2="368.86" y2="337.8" class="ax"/>
<line x1="388.58" y1="334.2" x2="388.58" y2="337.8" class="ax"/>
<text x="306.5" y="347.8" class="tl" text-anchor="middle">0 HP</text>
<text x="347.44" y="347.8" class="tl" text-anchor="middle">18 HPI</text>
<text x="386.38" y="347.8" class="tl" text-anchor="middle">48 HPI</text>
<text transform="translate(349.14 264) scale(0.97 1)" class="ti" text-anchor="middle">Cluster 6</text>
<clipPath id="c6"><path d="M309.76 296.67 L313.63 302.2 L316.94 306.06 L319.71 307.73 L323.59 305.51 L329.12 298.88 L333.53 297.77 L339.06 294.45 L344.59 288.37 L349.21 280.63 L353.62 282.84 L359.15 286.16 L363.59 281.75 L368.54 276.43 L372.43 281.75 L375.74 286.16 L380.15 287.82 L384.59 287.82 L388.68 287.04 L388.68 325.41 L384.59 317.12 L380.15 309.37 L375.74 301.65 L372.98 298.88 L369.11 300.53 L364.68 297.77 L360.27 295.55 L356.94 297.77 L352.53 303.84 L349 308.82 L343.49 313.81 L337.96 318.22 L333.53 324.87 L329.67 331.49 L326.35 327.06 L322.47 323.2 L318.06 322.1 L313.63 324.87 L309.76 329.83Z"/></clipPath>
<g clip-path="url(#c6)"><path d="M309.76 296.67 L313.63 302.2 L316.94 306.06 L319.71 307.73 L323.59 305.51 L329.12 298.88 L333.53 297.77 L339.06 294.45 L344.59 288.37 L349.21 280.63 L353.62 282.84 L359.15 286.16 L363.59 281.75 L368.54 276.43 L372.43 281.75 L375.74 286.16 L380.15 287.82 L384.59 287.82 L388.68 287.04 L388.68 325.41 L384.59 317.12 L380.15 309.37 L375.74 301.65 L372.98 298.88 L369.11 300.53 L364.68 297.77 L360.27 295.55 L356.94 297.77 L352.53 303.84 L349 308.82 L343.49 313.81 L337.96 318.22 L333.53 324.87 L329.67 331.49 L326.35 327.06 L322.47 323.2 L318.06 322.1 L313.63 324.87 L309.76 329.83Z" class="env"/>
<path d="M309.76 296.67 L313.63 302.2 L316.94 306.06 L319.71 307.73 L323.59 305.51 L329.12 298.88 L333.53 297.77 L339.06 294.45 L344.59 288.37 L349.21 280.63 L353.62 282.84 L359.15 286.16 L363.59 281.75 L368.54 276.43 L372.43 281.75 L375.74 286.16 L380.15 287.82 L384.59 287.82 L388.68 287.04" class="eb0"/><path d="M309.76 296.67 L313.63 302.2 L316.94 306.06 L319.71 307.73 L323.59 305.51 L329.12 298.88 L333.53 297.77 L339.06 294.45 L344.59 288.37 L349.21 280.63 L353.62 282.84 L359.15 286.16 L363.59 281.75 L368.54 276.43 L372.43 281.75 L375.74 286.16 L380.15 287.82 L384.59 287.82 L388.68 287.04" class="eb1"/><path d="M309.76 296.67 L313.63 302.2 L316.94 306.06 L319.71 307.73 L323.59 305.51 L329.12 298.88 L333.53 297.77 L339.06 294.45 L344.59 288.37 L349.21 280.63 L353.62 282.84 L359.15 286.16 L363.59 281.75 L368.54 276.43 L372.43 281.75 L375.74 286.16 L380.15 287.82 L384.59 287.82 L388.68 287.04" class="eb2"/>
<path d="M388.68 325.41 L384.59 317.12 L380.15 309.37 L375.74 301.65 L372.98 298.88 L369.11 300.53 L364.68 297.77 L360.27 295.55 L356.94 297.77 L352.53 303.84 L349 308.82 L343.49 313.81 L337.96 318.22 L333.53 324.87 L329.67 331.49 L326.35 327.06 L322.47 323.2 L318.06 322.1 L313.63 324.87 L309.76 329.83" class="eb0"/><path d="M388.68 325.41 L384.59 317.12 L380.15 309.37 L375.74 301.65 L372.98 298.88 L369.11 300.53 L364.68 297.77 L360.27 295.55 L356.94 297.77 L352.53 303.84 L349 308.82 L343.49 313.81 L337.96 318.22 L333.53 324.87 L329.67 331.49 L326.35 327.06 L322.47 323.2 L318.06 322.1 L313.63 324.87 L309.76 329.83" class="eb1"/><path d="M388.68 325.41 L384.59 317.12 L380.15 309.37 L375.74 301.65 L372.98 298.88 L369.11 300.53 L364.68 297.77 L360.27 295.55 L356.94 297.77 L352.53 303.84 L349 308.82 L343.49 313.81 L337.96 318.22 L333.53 324.87 L329.67 331.49 L326.35 327.06 L322.47 323.2 L318.06 322.1 L313.63 324.87 L309.76 329.83" class="eb2"/>
</g>
<line x1="44.1" y1="378.7" x2="44.1" y2="425.59" class="ax"/>
<line x1="41.1" y1="378.7" x2="44.1" y2="378.7" class="ax"/>
<line x1="41.1" y1="386.51" x2="44.1" y2="386.51" class="ax"/>
<line x1="41.1" y1="394.33" x2="44.1" y2="394.33" class="ax"/>
<line x1="41.1" y1="402.14" x2="44.1" y2="402.14" class="ax"/>
<line x1="41.1" y1="409.96" x2="44.1" y2="409.96" class="ax"/>
<line x1="41.1" y1="417.77" x2="44.1" y2="417.77" class="ax"/>
<line x1="41.1" y1="425.59" x2="44.1" y2="425.59" class="ax"/>
<text transform="translate(35.9 386.51) rotate(-90)" class="tl" text-anchor="middle">1.0</text>
<text transform="translate(35.9 402.14) rotate(-90)" class="tl" text-anchor="middle">0.0</text>
<text transform="translate(35.9 425.59) rotate(-90)" class="tl" text-anchor="middle">−1.5</text>
<text transform="translate(21.3 403.9) rotate(-90)" class="yl" text-anchor="middle">Expression changes</text>
<line x1="47.4" y1="432.7" x2="126.28" y2="432.7" class="ax"/>
<line x1="47.4" y1="432.7" x2="47.4" y2="436.3" class="ax"/>
<line x1="67.12" y1="432.7" x2="67.12" y2="436.3" class="ax"/>
<line x1="86.84" y1="432.7" x2="86.84" y2="436.3" class="ax"/>
<line x1="106.56" y1="432.7" x2="106.56" y2="436.3" class="ax"/>
<line x1="126.28" y1="432.7" x2="126.28" y2="436.3" class="ax"/>
<text x="44.2" y="446.3" class="tl" text-anchor="middle">0 HP</text>
<text x="85.14" y="446.3" class="tl" text-anchor="middle">18 HPI</text>
<text x="124.08" y="446.3" class="tl" text-anchor="middle">48 HPI</text>
<text transform="translate(86.84 362.3) scale(0.97 1)" class="ti" text-anchor="middle">Cluster 7</text>
<clipPath id="c7"><path d="M47.43 395.67 L50.53 398.43 L54.39 399.53 L58.28 397.88 L62.69 395.12 L67.12 392.02 L71.53 394.55 L76.51 396.77 L81.49 393.45 L87 386.51 L91.62 392.35 L96.06 395.67 L99.37 396.22 L104.9 394 L111.53 389.59 L118.15 385.16 L122.59 380.75 L126.26 374.67 L126.26 382.94 L122.59 392.35 L118.15 402.84 L113.74 412.81 L109.88 420.53 L106.54 427.18 L102.68 422.75 L98.27 418.34 L93.84 416.67 L89.43 417.22 L87 417.32 L83.69 415.57 L79.28 415 L74.84 417.22 L70.43 421.65 L67.12 426.61 L64.35 423.87 L61.59 420.53 L58.28 418.55 L54.39 419.43 L50.53 422.2 L47.43 424.41Z"/></clipPath>
<g clip-path="url(#c7)"><path d="M47.43 395.67 L50.53 398.43 L54.39 399.53 L58.28 397.88 L62.69 395.12 L67.12 392.02 L71.53 394.55 L76.51 396.77 L81.49 393.45 L87 386.51 L91.62 392.35 L96.06 395.67 L99.37 396.22 L104.9 394 L111.53 389.59 L118.15 385.16 L122.59 380.75 L126.26 374.67 L126.26 382.94 L122.59 392.35 L118.15 402.84 L113.74 412.81 L109.88 420.53 L106.54 427.18 L102.68 422.75 L98.27 418.34 L93.84 416.67 L89.43 417.22 L87 417.32 L83.69 415.57 L79.28 415 L74.84 417.22 L70.43 421.65 L67.12 426.61 L64.35 423.87 L61.59 420.53 L58.28 418.55 L54.39 419.43 L50.53 422.2 L47.43 424.41Z" class="env"/>
<path d="M47.43 395.67 L50.53 398.43 L54.39 399.53 L58.28 397.88 L62.69 395.12 L67.12 392.02 L71.53 394.55 L76.51 396.77 L81.49 393.45 L87 386.51 L91.62 392.35 L96.06 395.67 L99.37 396.22 L104.9 394 L111.53 389.59 L118.15 385.16 L122.59 380.75 L126.26 374.67" class="eb0"/><path d="M47.43 395.67 L50.53 398.43 L54.39 399.53 L58.28 397.88 L62.69 395.12 L67.12 392.02 L71.53 394.55 L76.51 396.77 L81.49 393.45 L87 386.51 L91.62 392.35 L96.06 395.67 L99.37 396.22 L104.9 394 L111.53 389.59 L118.15 385.16 L122.59 380.75 L126.26 374.67" class="eb1"/><path d="M47.43 395.67 L50.53 398.43 L54.39 399.53 L58.28 397.88 L62.69 395.12 L67.12 392.02 L71.53 394.55 L76.51 396.77 L81.49 393.45 L87 386.51 L91.62 392.35 L96.06 395.67 L99.37 396.22 L104.9 394 L111.53 389.59 L118.15 385.16 L122.59 380.75 L126.26 374.67" class="eb2"/>
<path d="M126.26 382.94 L122.59 392.35 L118.15 402.84 L113.74 412.81 L109.88 420.53 L106.54 427.18 L102.68 422.75 L98.27 418.34 L93.84 416.67 L89.43 417.22 L87 417.32 L83.69 415.57 L79.28 415 L74.84 417.22 L70.43 421.65 L67.12 426.61 L64.35 423.87 L61.59 420.53 L58.28 418.55 L54.39 419.43 L50.53 422.2 L47.43 424.41" class="eb0"/><path d="M126.26 382.94 L122.59 392.35 L118.15 402.84 L113.74 412.81 L109.88 420.53 L106.54 427.18 L102.68 422.75 L98.27 418.34 L93.84 416.67 L89.43 417.22 L87 417.32 L83.69 415.57 L79.28 415 L74.84 417.22 L70.43 421.65 L67.12 426.61 L64.35 423.87 L61.59 420.53 L58.28 418.55 L54.39 419.43 L50.53 422.2 L47.43 424.41" class="eb1"/><path d="M126.26 382.94 L122.59 392.35 L118.15 402.84 L113.74 412.81 L109.88 420.53 L106.54 427.18 L102.68 422.75 L98.27 418.34 L93.84 416.67 L89.43 417.22 L87 417.32 L83.69 415.57 L79.28 415 L74.84 417.22 L70.43 421.65 L67.12 426.61 L64.35 423.87 L61.59 420.53 L58.28 418.55 L54.39 419.43 L50.53 422.2 L47.43 424.41" class="eb2"/>
</g>
<line x1="175.1" y1="378.7" x2="175.1" y2="425.59" class="ax"/>
<line x1="172.1" y1="378.7" x2="175.1" y2="378.7" class="ax"/>
<line x1="172.1" y1="386.51" x2="175.1" y2="386.51" class="ax"/>
<line x1="172.1" y1="394.33" x2="175.1" y2="394.33" class="ax"/>
<line x1="172.1" y1="402.14" x2="175.1" y2="402.14" class="ax"/>
<line x1="172.1" y1="409.96" x2="175.1" y2="409.96" class="ax"/>
<line x1="172.1" y1="417.77" x2="175.1" y2="417.77" class="ax"/>
<line x1="172.1" y1="425.59" x2="175.1" y2="425.59" class="ax"/>
<text transform="translate(166.9 386.51) rotate(-90)" class="tl" text-anchor="middle">1.0</text>
<text transform="translate(166.9 402.14) rotate(-90)" class="tl" text-anchor="middle">0.0</text>
<text transform="translate(166.9 425.59) rotate(-90)" class="tl" text-anchor="middle">−1.5</text>
<text transform="translate(152.3 403.9) rotate(-90)" class="yl" text-anchor="middle">Expression changes</text>
<line x1="178.4" y1="432.7" x2="257.28" y2="432.7" class="ax"/>
<line x1="178.4" y1="432.7" x2="178.4" y2="436.3" class="ax"/>
<line x1="198.12" y1="432.7" x2="198.12" y2="436.3" class="ax"/>
<line x1="217.84" y1="432.7" x2="217.84" y2="436.3" class="ax"/>
<line x1="237.56" y1="432.7" x2="237.56" y2="436.3" class="ax"/>
<line x1="257.28" y1="432.7" x2="257.28" y2="436.3" class="ax"/>
<text x="175.2" y="446.3" class="tl" text-anchor="middle">0 HP</text>
<text x="216.14" y="446.3" class="tl" text-anchor="middle">18 HPI</text>
<text x="255.08" y="446.3" class="tl" text-anchor="middle">48 HPI</text>
<text transform="translate(217.84 362.3) scale(0.97 1)" class="ti" text-anchor="middle">Cluster 8</text>
<path d="M240.64 355.6 L241.51 358.1 L244.16 358.16 L242.05 359.76 L242.81 362.29 L240.64 360.78 L238.47 362.29 L239.23 359.76 L237.12 358.16 L239.77 358.1Z" fill="#0000ff"/>
<path d="M248.69 355.6 L249.56 358.1 L252.21 358.16 L250.1 359.76 L250.86 362.29 L248.69 360.78 L246.52 362.29 L247.28 359.76 L245.17 358.16 L247.82 358.1Z" fill="#0000ff"/>
<path d="M256.74 355.6 L257.61 358.1 L260.26 358.16 L258.15 359.76 L258.91 362.29 L256.74 360.78 L254.57 362.29 L255.33 359.76 L253.22 358.16 L255.87 358.1Z" fill="#0000ff"/>
<path d="M264.79 355.6 L265.66 358.1 L268.31 358.16 L266.2 359.76 L266.96 362.29 L264.79 360.78 L262.62 362.29 L263.38 359.76 L261.27 358.16 L263.92 358.1Z" fill="#0000ff"/>
<clipPath id="c8"><path d="M178.43 406.16 L182.63 402.84 L187.06 399.53 L191.47 395.12 L195.35 388.47 L198.67 383.51 L202.53 389.59 L206.96 395.67 L211.37 400.08 L215.81 401.07 L220.43 399.38 L225.94 394.55 L231.47 388.47 L237.54 381.84 L242.53 384.06 L248.06 384.61 L252.49 381.84 L257.26 376.86 L257.26 398.98 L253.59 396.77 L249.15 395.12 L244.74 402.84 L238.11 411.14 L234.78 411.14 L230.37 413.35 L224.84 417.22 L220.43 421.65 L218 427.45 L214.69 422.2 L211.37 417.77 L206.96 414.45 L202.53 412.81 L198.67 412.26 L194.78 413.35 L190.37 415.57 L185.94 419.43 L181.53 424.41 L178.43 429.94Z"/></clipPath>
<g clip-path="url(#c8)"><path d="M178.43 406.16 L182.63 402.84 L187.06 399.53 L191.47 395.12 L195.35 388.47 L198.67 383.51 L202.53 389.59 L206.96 395.67 L211.37 400.08 L215.81 401.07 L220.43 399.38 L225.94 394.55 L231.47 388.47 L237.54 381.84 L242.53 384.06 L248.06 384.61 L252.49 381.84 L257.26 376.86 L257.26 398.98 L253.59 396.77 L249.15 395.12 L244.74 402.84 L238.11 411.14 L234.78 411.14 L230.37 413.35 L224.84 417.22 L220.43 421.65 L218 427.45 L214.69 422.2 L211.37 417.77 L206.96 414.45 L202.53 412.81 L198.67 412.26 L194.78 413.35 L190.37 415.57 L185.94 419.43 L181.53 424.41 L178.43 429.94Z" class="env"/>
<path d="M178.43 406.16 L182.63 402.84 L187.06 399.53 L191.47 395.12 L195.35 388.47 L198.67 383.51 L202.53 389.59 L206.96 395.67 L211.37 400.08 L215.81 401.07 L220.43 399.38 L225.94 394.55 L231.47 388.47 L237.54 381.84 L242.53 384.06 L248.06 384.61 L252.49 381.84 L257.26 376.86" class="eb0"/><path d="M178.43 406.16 L182.63 402.84 L187.06 399.53 L191.47 395.12 L195.35 388.47 L198.67 383.51 L202.53 389.59 L206.96 395.67 L211.37 400.08 L215.81 401.07 L220.43 399.38 L225.94 394.55 L231.47 388.47 L237.54 381.84 L242.53 384.06 L248.06 384.61 L252.49 381.84 L257.26 376.86" class="eb1"/><path d="M178.43 406.16 L182.63 402.84 L187.06 399.53 L191.47 395.12 L195.35 388.47 L198.67 383.51 L202.53 389.59 L206.96 395.67 L211.37 400.08 L215.81 401.07 L220.43 399.38 L225.94 394.55 L231.47 388.47 L237.54 381.84 L242.53 384.06 L248.06 384.61 L252.49 381.84 L257.26 376.86" class="eb2"/>
<path d="M257.26 398.98 L253.59 396.77 L249.15 395.12 L244.74 402.84 L238.11 411.14 L234.78 411.14 L230.37 413.35 L224.84 417.22 L220.43 421.65 L218 427.45 L214.69 422.2 L211.37 417.77 L206.96 414.45 L202.53 412.81 L198.67 412.26 L194.78 413.35 L190.37 415.57 L185.94 419.43 L181.53 424.41 L178.43 429.94" class="eb0"/><path d="M257.26 398.98 L253.59 396.77 L249.15 395.12 L244.74 402.84 L238.11 411.14 L234.78 411.14 L230.37 413.35 L224.84 417.22 L220.43 421.65 L218 427.45 L214.69 422.2 L211.37 417.77 L206.96 414.45 L202.53 412.81 L198.67 412.26 L194.78 413.35 L190.37 415.57 L185.94 419.43 L181.53 424.41 L178.43 429.94" class="eb1"/><path d="M257.26 398.98 L253.59 396.77 L249.15 395.12 L244.74 402.84 L238.11 411.14 L234.78 411.14 L230.37 413.35 L224.84 417.22 L220.43 421.65 L218 427.45 L214.69 422.2 L211.37 417.77 L206.96 414.45 L202.53 412.81 L198.67 412.26 L194.78 413.35 L190.37 415.57 L185.94 419.43 L181.53 424.41 L178.43 429.94" class="eb2"/>
</g>
<line x1="306.4" y1="378.7" x2="306.4" y2="425.59" class="ax"/>
<line x1="303.4" y1="378.7" x2="306.4" y2="378.7" class="ax"/>
<line x1="303.4" y1="386.51" x2="306.4" y2="386.51" class="ax"/>
<line x1="303.4" y1="394.33" x2="306.4" y2="394.33" class="ax"/>
<line x1="303.4" y1="402.14" x2="306.4" y2="402.14" class="ax"/>
<line x1="303.4" y1="409.96" x2="306.4" y2="409.96" class="ax"/>
<line x1="303.4" y1="417.77" x2="306.4" y2="417.77" class="ax"/>
<line x1="303.4" y1="425.59" x2="306.4" y2="425.59" class="ax"/>
<text transform="translate(298.2 386.51) rotate(-90)" class="tl" text-anchor="middle">1.0</text>
<text transform="translate(298.2 402.14) rotate(-90)" class="tl" text-anchor="middle">0.0</text>
<text transform="translate(298.2 425.59) rotate(-90)" class="tl" text-anchor="middle">−1.5</text>
<text transform="translate(283.6 403.9) rotate(-90)" class="yl" text-anchor="middle">Expression changes</text>
<line x1="309.7" y1="432.7" x2="388.58" y2="432.7" class="ax"/>
<line x1="309.7" y1="432.7" x2="309.7" y2="436.3" class="ax"/>
<line x1="329.42" y1="432.7" x2="329.42" y2="436.3" class="ax"/>
<line x1="349.14" y1="432.7" x2="349.14" y2="436.3" class="ax"/>
<line x1="368.86" y1="432.7" x2="368.86" y2="436.3" class="ax"/>
<line x1="388.58" y1="432.7" x2="388.58" y2="436.3" class="ax"/>
<text x="306.5" y="446.3" class="tl" text-anchor="middle">0 HP</text>
<text x="347.44" y="446.3" class="tl" text-anchor="middle">18 HPI</text>
<text x="386.38" y="446.3" class="tl" text-anchor="middle">48 HPI</text>
<text transform="translate(349.14 362.3) scale(0.97 1)" class="ti" text-anchor="middle">Cluster 9</text>
<clipPath id="c9"><path d="M309.76 375.76 L313.63 380.18 L316.94 383.51 L319.71 384.61 L323.59 382.39 L329.67 377.98 L333.53 384.06 L339.06 392.35 L344.59 396.77 L347 398.43 L351.43 401.75 L355.84 403.39 L361.37 400.65 L368.54 392.67 L373.53 398.43 L379.06 402.3 L383.49 401.96 L388.68 396.43 L388.68 427.18 L384.59 422.2 L380.15 419.43 L375.74 419.43 L372.43 422.75 L369.11 427.18 L364.68 422.2 L360.27 419.98 L355.84 420.53 L351.43 423.87 L349 427.66 L344.59 419.43 L340.16 412.81 L334.65 406.16 L329.12 400.08 L324.69 395.12 L320.28 390.69 L317.51 389.59 L313.63 391.24 L309.76 394.55Z"/></clipPath>
<g clip-path="url(#c9)"><path d="M309.76 375.76 L313.63 380.18 L316.94 383.51 L319.71 384.61 L323.59 382.39 L329.67 377.98 L333.53 384.06 L339.06 392.35 L344.59 396.77 L347 398.43 L351.43 401.75 L355.84 403.39 L361.37 400.65 L368.54 392.67 L373.53 398.43 L379.06 402.3 L383.49 401.96 L388.68 396.43 L388.68 427.18 L384.59 422.2 L380.15 419.43 L375.74 419.43 L372.43 422.75 L369.11 427.18 L364.68 422.2 L360.27 419.98 L355.84 420.53 L351.43 423.87 L349 427.66 L344.59 419.43 L340.16 412.81 L334.65 406.16 L329.12 400.08 L324.69 395.12 L320.28 390.69 L317.51 389.59 L313.63 391.24 L309.76 394.55Z" class="env"/>
<path d="M309.76 375.76 L313.63 380.18 L316.94 383.51 L319.71 384.61 L323.59 382.39 L329.67 377.98 L333.53 384.06 L339.06 392.35 L344.59 396.77 L347 398.43 L351.43 401.75 L355.84 403.39 L361.37 400.65 L368.54 392.67 L373.53 398.43 L379.06 402.3 L383.49 401.96 L388.68 396.43" class="eb0"/><path d="M309.76 375.76 L313.63 380.18 L316.94 383.51 L319.71 384.61 L323.59 382.39 L329.67 377.98 L333.53 384.06 L339.06 392.35 L344.59 396.77 L347 398.43 L351.43 401.75 L355.84 403.39 L361.37 400.65 L368.54 392.67 L373.53 398.43 L379.06 402.3 L383.49 401.96 L388.68 396.43" class="eb1"/><path d="M309.76 375.76 L313.63 380.18 L316.94 383.51 L319.71 384.61 L323.59 382.39 L329.67 377.98 L333.53 384.06 L339.06 392.35 L344.59 396.77 L347 398.43 L351.43 401.75 L355.84 403.39 L361.37 400.65 L368.54 392.67 L373.53 398.43 L379.06 402.3 L383.49 401.96 L388.68 396.43" class="eb2"/>
<path d="M388.68 427.18 L384.59 422.2 L380.15 419.43 L375.74 419.43 L372.43 422.75 L369.11 427.18 L364.68 422.2 L360.27 419.98 L355.84 420.53 L351.43 423.87 L349 427.66 L344.59 419.43 L340.16 412.81 L334.65 406.16 L329.12 400.08 L324.69 395.12 L320.28 390.69 L317.51 389.59 L313.63 391.24 L309.76 394.55" class="eb0"/><path d="M388.68 427.18 L384.59 422.2 L380.15 419.43 L375.74 419.43 L372.43 422.75 L369.11 427.18 L364.68 422.2 L360.27 419.98 L355.84 420.53 L351.43 423.87 L349 427.66 L344.59 419.43 L340.16 412.81 L334.65 406.16 L329.12 400.08 L324.69 395.12 L320.28 390.69 L317.51 389.59 L313.63 391.24 L309.76 394.55" class="eb1"/><path d="M388.68 427.18 L384.59 422.2 L380.15 419.43 L375.74 419.43 L372.43 422.75 L369.11 427.18 L364.68 422.2 L360.27 419.98 L355.84 420.53 L351.43 423.87 L349 427.66 L344.59 419.43 L340.16 412.81 L334.65 406.16 L329.12 400.08 L324.69 395.12 L320.28 390.69 L317.51 389.59 L313.63 391.24 L309.76 394.55" class="eb2"/>
</g>
<line x1="44.1" y1="476.9" x2="44.1" y2="523.79" class="ax"/>
<line x1="41.1" y1="476.9" x2="44.1" y2="476.9" class="ax"/>
<line x1="41.1" y1="484.71" x2="44.1" y2="484.71" class="ax"/>
<line x1="41.1" y1="492.53" x2="44.1" y2="492.53" class="ax"/>
<line x1="41.1" y1="500.34" x2="44.1" y2="500.34" class="ax"/>
<line x1="41.1" y1="508.16" x2="44.1" y2="508.16" class="ax"/>
<line x1="41.1" y1="515.98" x2="44.1" y2="515.98" class="ax"/>
<line x1="41.1" y1="523.79" x2="44.1" y2="523.79" class="ax"/>
<text transform="translate(35.9 484.71) rotate(-90)" class="tl" text-anchor="middle">1.0</text>
<text transform="translate(35.9 500.34) rotate(-90)" class="tl" text-anchor="middle">0.0</text>
<text transform="translate(35.9 523.79) rotate(-90)" class="tl" text-anchor="middle">−1.5</text>
<text transform="translate(21.3 502.1) rotate(-90)" class="yl" text-anchor="middle">Expression changes</text>
<line x1="47.4" y1="530.7" x2="126.28" y2="530.7" class="ax"/>
<line x1="47.4" y1="530.7" x2="47.4" y2="534.3" class="ax"/>
<line x1="67.12" y1="530.7" x2="67.12" y2="534.3" class="ax"/>
<line x1="86.84" y1="530.7" x2="86.84" y2="534.3" class="ax"/>
<line x1="106.56" y1="530.7" x2="106.56" y2="534.3" class="ax"/>
<line x1="126.28" y1="530.7" x2="126.28" y2="534.3" class="ax"/>
<text x="44.2" y="544.3" class="tl" text-anchor="middle">0 HP</text>
<text x="85.14" y="544.3" class="tl" text-anchor="middle">18 HPI</text>
<text x="124.08" y="544.3" class="tl" text-anchor="middle">48 HPI</text>
<text transform="translate(86.84 460.5) scale(0.97 1)" class="ti" text-anchor="middle">Cluster 10</text>
<clipPath id="c10"><path d="M47.43 475.98 L51.63 482.06 L56.06 486.47 L59.37 488.69 L67.12 488.48 L70.43 493.12 L74.84 499.2 L78.16 503.61 L82.59 504.16 L87 502.34 L91.62 503.61 L96.06 501.96 L101.59 496.43 L106.54 488.69 L111.53 487.59 L118.15 484.28 L122.59 480.94 L126.26 475.43 L126.26 500.3 L122.59 499.75 L118.15 503.06 L113.74 510.81 L109.88 517.43 L106.54 524.06 L102.68 520.2 L99.37 518.53 L96.06 518.53 L91.62 520.75 L86.9 527.56 L83.69 521.87 L79.28 518.53 L74.84 518.53 L70.43 521.87 L67.12 524.61 L64.35 518.53 L60.47 511.9 L56.06 505.28 L51.63 501.39 L47.43 499.75Z"/></clipPath>
<g clip-path="url(#c10)"><path d="M47.43 475.98 L51.63 482.06 L56.06 486.47 L59.37 488.69 L67.12 488.48 L70.43 493.12 L74.84 499.2 L78.16 503.61 L82.59 504.16 L87 502.34 L91.62 503.61 L96.06 501.96 L101.59 496.43 L106.54 488.69 L111.53 487.59 L118.15 484.28 L122.59 480.94 L126.26 475.43 L126.26 500.3 L122.59 499.75 L118.15 503.06 L113.74 510.81 L109.88 517.43 L106.54 524.06 L102.68 520.2 L99.37 518.53 L96.06 518.53 L91.62 520.75 L86.9 527.56 L83.69 521.87 L79.28 518.53 L74.84 518.53 L70.43 521.87 L67.12 524.61 L64.35 518.53 L60.47 511.9 L56.06 505.28 L51.63 501.39 L47.43 499.75Z" class="env"/>
<path d="M47.43 475.98 L51.63 482.06 L56.06 486.47 L59.37 488.69 L67.12 488.48 L70.43 493.12 L74.84 499.2 L78.16 503.61 L82.59 504.16 L87 502.34 L91.62 503.61 L96.06 501.96 L101.59 496.43 L106.54 488.69 L111.53 487.59 L118.15 484.28 L122.59 480.94 L126.26 475.43" class="eb0"/><path d="M47.43 475.98 L51.63 482.06 L56.06 486.47 L59.37 488.69 L67.12 488.48 L70.43 493.12 L74.84 499.2 L78.16 503.61 L82.59 504.16 L87 502.34 L91.62 503.61 L96.06 501.96 L101.59 496.43 L106.54 488.69 L111.53 487.59 L118.15 484.28 L122.59 480.94 L126.26 475.43" class="eb1"/><path d="M47.43 475.98 L51.63 482.06 L56.06 486.47 L59.37 488.69 L67.12 488.48 L70.43 493.12 L74.84 499.2 L78.16 503.61 L82.59 504.16 L87 502.34 L91.62 503.61 L96.06 501.96 L101.59 496.43 L106.54 488.69 L111.53 487.59 L118.15 484.28 L122.59 480.94 L126.26 475.43" class="eb2"/>
<path d="M126.26 500.3 L122.59 499.75 L118.15 503.06 L113.74 510.81 L109.88 517.43 L106.54 524.06 L102.68 520.2 L99.37 518.53 L96.06 518.53 L91.62 520.75 L86.9 527.56 L83.69 521.87 L79.28 518.53 L74.84 518.53 L70.43 521.87 L67.12 524.61 L64.35 518.53 L60.47 511.9 L56.06 505.28 L51.63 501.39 L47.43 499.75" class="eb0"/><path d="M126.26 500.3 L122.59 499.75 L118.15 503.06 L113.74 510.81 L109.88 517.43 L106.54 524.06 L102.68 520.2 L99.37 518.53 L96.06 518.53 L91.62 520.75 L86.9 527.56 L83.69 521.87 L79.28 518.53 L74.84 518.53 L70.43 521.87 L67.12 524.61 L64.35 518.53 L60.47 511.9 L56.06 505.28 L51.63 501.39 L47.43 499.75" class="eb1"/><path d="M126.26 500.3 L122.59 499.75 L118.15 503.06 L113.74 510.81 L109.88 517.43 L106.54 524.06 L102.68 520.2 L99.37 518.53 L96.06 518.53 L91.62 520.75 L86.9 527.56 L83.69 521.87 L79.28 518.53 L74.84 518.53 L70.43 521.87 L67.12 524.61 L64.35 518.53 L60.47 511.9 L56.06 505.28 L51.63 501.39 L47.43 499.75" class="eb2"/>
</g>
<line x1="175.1" y1="476.9" x2="175.1" y2="523.79" class="ax"/>
<line x1="172.1" y1="476.9" x2="175.1" y2="476.9" class="ax"/>
<line x1="172.1" y1="484.71" x2="175.1" y2="484.71" class="ax"/>
<line x1="172.1" y1="492.53" x2="175.1" y2="492.53" class="ax"/>
<line x1="172.1" y1="500.34" x2="175.1" y2="500.34" class="ax"/>
<line x1="172.1" y1="508.16" x2="175.1" y2="508.16" class="ax"/>
<line x1="172.1" y1="515.98" x2="175.1" y2="515.98" class="ax"/>
<line x1="172.1" y1="523.79" x2="175.1" y2="523.79" class="ax"/>
<text transform="translate(166.9 484.71) rotate(-90)" class="tl" text-anchor="middle">1.0</text>
<text transform="translate(166.9 500.34) rotate(-90)" class="tl" text-anchor="middle">0.0</text>
<text transform="translate(166.9 523.79) rotate(-90)" class="tl" text-anchor="middle">−1.5</text>
<text transform="translate(152.3 502.1) rotate(-90)" class="yl" text-anchor="middle">Expression changes</text>
<line x1="178.4" y1="530.7" x2="257.28" y2="530.7" class="ax"/>
<line x1="178.4" y1="530.7" x2="178.4" y2="534.3" class="ax"/>
<line x1="198.12" y1="530.7" x2="198.12" y2="534.3" class="ax"/>
<line x1="217.84" y1="530.7" x2="217.84" y2="534.3" class="ax"/>
<line x1="237.56" y1="530.7" x2="237.56" y2="534.3" class="ax"/>
<line x1="257.28" y1="530.7" x2="257.28" y2="534.3" class="ax"/>
<text x="175.2" y="544.3" class="tl" text-anchor="middle">0 HP</text>
<text x="216.14" y="544.3" class="tl" text-anchor="middle">18 HPI</text>
<text x="255.08" y="544.3" class="tl" text-anchor="middle">48 HPI</text>
<text transform="translate(217.84 460.5) scale(0.97 1)" class="ti" text-anchor="middle">Cluster 11</text>
<path d="M241.29 453.8 L242.16 456.3 L244.81 456.36 L242.7 457.96 L243.46 460.49 L241.29 458.98 L239.12 460.49 L239.88 457.96 L237.77 456.36 L240.42 456.3Z" fill="#0000ff"/>
<clipPath id="c11"><path d="M178.43 512.45 L182.63 506.37 L187.06 500.84 L191.47 494.22 L195.35 485.37 L198.67 478.75 L202.53 482.06 L206.96 484.82 L211.37 484.28 L217.79 478.91 L222.62 484.28 L227.06 488.69 L232.59 488.92 L237.54 487.59 L241.43 489.78 L245.84 490.67 L251.37 487.59 L257.26 480.39 L257.26 509.14 L253.59 506.37 L249.15 506.37 L244.74 511.9 L240.88 517.43 L237.54 522.41 L233.68 516.34 L229.27 509.69 L224.84 505.28 L220.43 503.06 L217.16 502.66 L213.59 499.75 L210.28 498.08 L206.96 498.65 L202.53 501.96 L198.67 506.37 L194.78 509.69 L190.37 513.57 L185.94 517.43 L181.53 522.96 L178.43 528.49Z"/></clipPath>
<g clip-path="url(#c11)"><path d="M178.43 512.45 L182.63 506.37 L187.06 500.84 L191.47 494.22 L195.35 485.37 L198.67 478.75 L202.53 482.06 L206.96 484.82 L211.37 484.28 L217.79 478.91 L222.62 484.28 L227.06 488.69 L232.59 488.92 L237.54 487.59 L241.43 489.78 L245.84 490.67 L251.37 487.59 L257.26 480.39 L257.26 509.14 L253.59 506.37 L249.15 506.37 L244.74 511.9 L240.88 517.43 L237.54 522.41 L233.68 516.34 L229.27 509.69 L224.84 505.28 L220.43 503.06 L217.16 502.66 L213.59 499.75 L210.28 498.08 L206.96 498.65 L202.53 501.96 L198.67 506.37 L194.78 509.69 L190.37 513.57 L185.94 517.43 L181.53 522.96 L178.43 528.49Z" class="env"/>
<path d="M178.43 512.45 L182.63 506.37 L187.06 500.84 L191.47 494.22 L195.35 485.37 L198.67 478.75 L202.53 482.06 L206.96 484.82 L211.37 484.28 L217.79 478.91 L222.62 484.28 L227.06 488.69 L232.59 488.92 L237.54 487.59 L241.43 489.78 L245.84 490.67 L251.37 487.59 L257.26 480.39" class="eb0"/><path d="M178.43 512.45 L182.63 506.37 L187.06 500.84 L191.47 494.22 L195.35 485.37 L198.67 478.75 L202.53 482.06 L206.96 484.82 L211.37 484.28 L217.79 478.91 L222.62 484.28 L227.06 488.69 L232.59 488.92 L237.54 487.59 L241.43 489.78 L245.84 490.67 L251.37 487.59 L257.26 480.39" class="eb1"/><path d="M178.43 512.45 L182.63 506.37 L187.06 500.84 L191.47 494.22 L195.35 485.37 L198.67 478.75 L202.53 482.06 L206.96 484.82 L211.37 484.28 L217.79 478.91 L222.62 484.28 L227.06 488.69 L232.59 488.92 L237.54 487.59 L241.43 489.78 L245.84 490.67 L251.37 487.59 L257.26 480.39" class="eb2"/>
<path d="M257.26 509.14 L253.59 506.37 L249.15 506.37 L244.74 511.9 L240.88 517.43 L237.54 522.41 L233.68 516.34 L229.27 509.69 L224.84 505.28 L220.43 503.06 L217.16 502.66 L213.59 499.75 L210.28 498.08 L206.96 498.65 L202.53 501.96 L198.67 506.37 L194.78 509.69 L190.37 513.57 L185.94 517.43 L181.53 522.96 L178.43 528.49" class="eb0"/><path d="M257.26 509.14 L253.59 506.37 L249.15 506.37 L244.74 511.9 L240.88 517.43 L237.54 522.41 L233.68 516.34 L229.27 509.69 L224.84 505.28 L220.43 503.06 L217.16 502.66 L213.59 499.75 L210.28 498.08 L206.96 498.65 L202.53 501.96 L198.67 506.37 L194.78 509.69 L190.37 513.57 L185.94 517.43 L181.53 522.96 L178.43 528.49" class="eb1"/><path d="M257.26 509.14 L253.59 506.37 L249.15 506.37 L244.74 511.9 L240.88 517.43 L237.54 522.41 L233.68 516.34 L229.27 509.69 L224.84 505.28 L220.43 503.06 L217.16 502.66 L213.59 499.75 L210.28 498.08 L206.96 498.65 L202.53 501.96 L198.67 506.37 L194.78 509.69 L190.37 513.57 L185.94 517.43 L181.53 522.96 L178.43 528.49" class="eb2"/>
</g>
<line x1="306.4" y1="476.9" x2="306.4" y2="523.79" class="ax"/>
<line x1="303.4" y1="476.9" x2="306.4" y2="476.9" class="ax"/>
<line x1="303.4" y1="484.71" x2="306.4" y2="484.71" class="ax"/>
<line x1="303.4" y1="492.53" x2="306.4" y2="492.53" class="ax"/>
<line x1="303.4" y1="500.34" x2="306.4" y2="500.34" class="ax"/>
<line x1="303.4" y1="508.16" x2="306.4" y2="508.16" class="ax"/>
<line x1="303.4" y1="515.98" x2="306.4" y2="515.98" class="ax"/>
<line x1="303.4" y1="523.79" x2="306.4" y2="523.79" class="ax"/>
<text transform="translate(298.2 484.71) rotate(-90)" class="tl" text-anchor="middle">1.0</text>
<text transform="translate(298.2 500.34) rotate(-90)" class="tl" text-anchor="middle">0.0</text>
<text transform="translate(298.2 523.79) rotate(-90)" class="tl" text-anchor="middle">−1.5</text>
<text transform="translate(283.6 502.1) rotate(-90)" class="yl" text-anchor="middle">Expression changes</text>
<line x1="309.7" y1="530.7" x2="388.58" y2="530.7" class="ax"/>
<line x1="309.7" y1="530.7" x2="309.7" y2="534.3" class="ax"/>
<line x1="329.42" y1="530.7" x2="329.42" y2="534.3" class="ax"/>
<line x1="349.14" y1="530.7" x2="349.14" y2="534.3" class="ax"/>
<line x1="368.86" y1="530.7" x2="368.86" y2="534.3" class="ax"/>
<line x1="388.58" y1="530.7" x2="388.58" y2="534.3" class="ax"/>
<text x="306.5" y="544.3" class="tl" text-anchor="middle">0 HP</text>
<text x="347.44" y="544.3" class="tl" text-anchor="middle">18 HPI</text>
<text x="386.38" y="544.3" class="tl" text-anchor="middle">48 HPI</text>
<text transform="translate(349.14 460.5) scale(0.97 1)" class="ti" text-anchor="middle">Cluster 12</text>
<clipPath id="c12"><path d="M309.76 482.95 L313.63 487.59 L318.06 490.35 L322.47 489.24 L326.35 486.47 L329.67 483.16 L333.53 488.69 L337.96 495.31 L342.37 499.2 L346.81 500.84 L348.79 500.55 L355.84 492 L361.37 484.28 L364.68 479.29 L369.11 472.98 L373.53 478.75 L376.84 482.06 L382.37 484.28 L388.68 486.47 L388.68 524.06 L384.59 515.22 L380.15 506.37 L375.74 497.53 L372.43 492.55 L369.11 491.45 L365.78 497.53 L361.37 506.37 L356.94 515.22 L352.53 522.96 L349.21 527.99 L346.81 524.06 L342.37 519.65 L337.96 517.98 L333.53 519.65 L329.12 520.2 L324.69 514.67 L321.37 512.45 L318.06 512.14 L313.63 514.67 L309.76 518.53Z"/></clipPath>
<g clip-path="url(#c12)"><path d="M309.76 482.95 L313.63 487.59 L318.06 490.35 L322.47 489.24 L326.35 486.47 L329.67 483.16 L333.53 488.69 L337.96 495.31 L342.37 499.2 L346.81 500.84 L348.79 500.55 L355.84 492 L361.37 484.28 L364.68 479.29 L369.11 472.98 L373.53 478.75 L376.84 482.06 L382.37 484.28 L388.68 486.47 L388.68 524.06 L384.59 515.22 L380.15 506.37 L375.74 497.53 L372.43 492.55 L369.11 491.45 L365.78 497.53 L361.37 506.37 L356.94 515.22 L352.53 522.96 L349.21 527.99 L346.81 524.06 L342.37 519.65 L337.96 517.98 L333.53 519.65 L329.12 520.2 L324.69 514.67 L321.37 512.45 L318.06 512.14 L313.63 514.67 L309.76 518.53Z" class="env"/>
<path d="M309.76 482.95 L313.63 487.59 L318.06 490.35 L322.47 489.24 L326.35 486.47 L329.67 483.16 L333.53 488.69 L337.96 495.31 L342.37 499.2 L346.81 500.84 L348.79 500.55 L355.84 492 L361.37 484.28 L364.68 479.29 L369.11 472.98 L373.53 478.75 L376.84 482.06 L382.37 484.28 L388.68 486.47" class="eb0"/><path d="M309.76 482.95 L313.63 487.59 L318.06 490.35 L322.47 489.24 L326.35 486.47 L329.67 483.16 L333.53 488.69 L337.96 495.31 L342.37 499.2 L346.81 500.84 L348.79 500.55 L355.84 492 L361.37 484.28 L364.68 479.29 L369.11 472.98 L373.53 478.75 L376.84 482.06 L382.37 484.28 L388.68 486.47" class="eb1"/><path d="M309.76 482.95 L313.63 487.59 L318.06 490.35 L322.47 489.24 L326.35 486.47 L329.67 483.16 L333.53 488.69 L337.96 495.31 L342.37 499.2 L346.81 500.84 L348.79 500.55 L355.84 492 L361.37 484.28 L364.68 479.29 L369.11 472.98 L373.53 478.75 L376.84 482.06 L382.37 484.28 L388.68 486.47" class="eb2"/>
<path d="M388.68 524.06 L384.59 515.22 L380.15 506.37 L375.74 497.53 L372.43 492.55 L369.11 491.45 L365.78 497.53 L361.37 506.37 L356.94 515.22 L352.53 522.96 L349.21 527.99 L346.81 524.06 L342.37 519.65 L337.96 517.98 L333.53 519.65 L329.12 520.2 L324.69 514.67 L321.37 512.45 L318.06 512.14 L313.63 514.67 L309.76 518.53" class="eb0"/><path d="M388.68 524.06 L384.59 515.22 L380.15 506.37 L375.74 497.53 L372.43 492.55 L369.11 491.45 L365.78 497.53 L361.37 506.37 L356.94 515.22 L352.53 522.96 L349.21 527.99 L346.81 524.06 L342.37 519.65 L337.96 517.98 L333.53 519.65 L329.12 520.2 L324.69 514.67 L321.37 512.45 L318.06 512.14 L313.63 514.67 L309.76 518.53" class="eb1"/><path d="M388.68 524.06 L384.59 515.22 L380.15 506.37 L375.74 497.53 L372.43 492.55 L369.11 491.45 L365.78 497.53 L361.37 506.37 L356.94 515.22 L352.53 522.96 L349.21 527.99 L346.81 524.06 L342.37 519.65 L337.96 517.98 L333.53 519.65 L329.12 520.2 L324.69 514.67 L321.37 512.45 L318.06 512.14 L313.63 514.67 L309.76 518.53" class="eb2"/>
</g>
</svg>
</body></html>
